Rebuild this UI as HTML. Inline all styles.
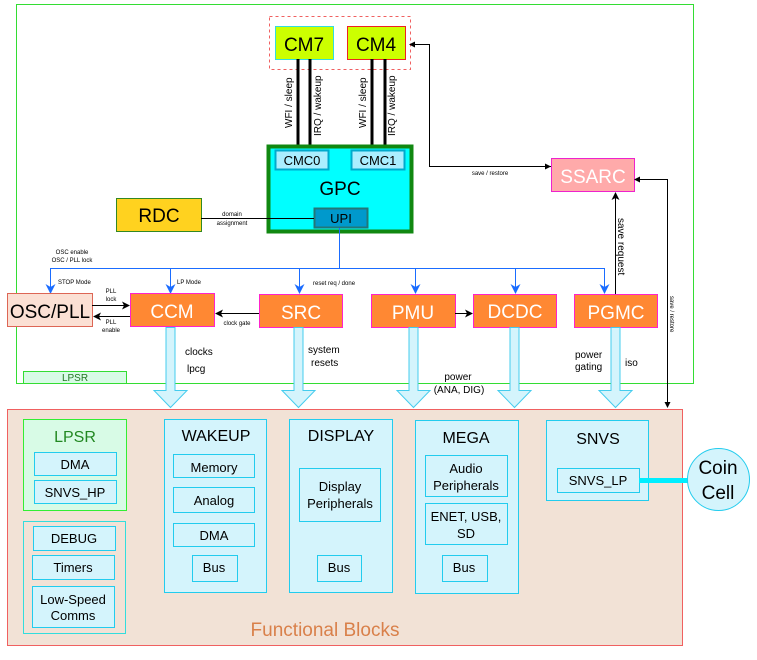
<!DOCTYPE html>
<html><head><meta charset="utf-8"><style>
html,body{margin:0;padding:0;background:#fff;}
svg{display:block;font-family:"Liberation Sans",sans-serif;}
</style></head><body>
<svg width="757" height="660" viewBox="0 0 757 660" xmlns="http://www.w3.org/2000/svg">
<defs>
<marker id="ab" markerWidth="8" markerHeight="8" refX="7" refY="4" orient="auto" markerUnits="userSpaceOnUse"><path d="M0,0 L8,4 L0,8 L2,4 z" fill="#000"/></marker>
<marker id="as" markerWidth="6" markerHeight="6" refX="5" refY="3" orient="auto" markerUnits="userSpaceOnUse"><path d="M0,0 L6,3 L0,6 z" fill="#000"/></marker>
<marker id="au" markerWidth="10" markerHeight="10" refX="9" refY="5" orient="auto" markerUnits="userSpaceOnUse"><path d="M0,0 L10,5 L0,10 L3,5 z" fill="#1a6cff"/></marker>
</defs>
<!-- outer green -->
<rect x="16.5" y="4.5" width="677" height="379" fill="none" stroke="#33dd33" stroke-width="1"/>
<rect x="23.5" y="371.5" width="103" height="12" fill="#d8fbe6" stroke="#33dd33"/>
<text x="75" y="381" font-size="10" text-anchor="middle" fill="#227722">LPSR</text>
<!-- functional blocks bg -->
<rect x="7.5" y="409.5" width="675" height="236" fill="#f2e2d6" stroke="#f06060"/>
<text x="325" y="636" font-size="19" text-anchor="middle" fill="#d9804a">Functional Blocks</text>

<!-- CM group -->
<rect x="269.5" y="16.5" width="141" height="53" fill="none" stroke="#f06060" stroke-dasharray="3,3"/>
<rect x="275.5" y="26.5" width="58" height="33" fill="#ccff00" stroke="#33dddd"/>
<text x="304" y="51" font-size="19" text-anchor="middle">CM7</text>
<rect x="347.5" y="26.5" width="58" height="33" fill="#ccff00" stroke="#ee2222"/>
<text x="376" y="51" font-size="19" text-anchor="middle">CM4</text>
<g stroke="#000" stroke-width="3">
<line x1="298" y1="59" x2="298" y2="150"/><line x1="310" y1="59" x2="310" y2="150"/>
<line x1="372" y1="59" x2="372" y2="150"/><line x1="385" y1="59" x2="385" y2="150"/>
</g>
<g font-size="10">
<text transform="translate(292,128) rotate(-90)">WFI / sleep</text>
<text transform="translate(321,136) rotate(-90)">IRQ / wakeup</text>
<text transform="translate(366,128) rotate(-90)">WFI / sleep</text>
<text transform="translate(395,136) rotate(-90)">IRQ / wakeup</text>
</g>
<!-- GPC -->
<rect x="268.5" y="146.5" width="143" height="85" fill="#00ffff" stroke="#118811" stroke-width="4"/>
<rect x="275.5" y="150.5" width="53" height="19" fill="#aaeeff" stroke="#00aacc" stroke-width="2"/>
<text x="302" y="165" font-size="13" text-anchor="middle">CMC0</text>
<rect x="351.5" y="150.5" width="53" height="19" fill="#aaeeff" stroke="#00aacc" stroke-width="2"/>
<text x="378" y="165" font-size="13" text-anchor="middle">CMC1</text>
<text x="340" y="195" font-size="19" text-anchor="middle">GPC</text>
<rect x="314.5" y="208.5" width="53" height="19" fill="#0099cc" stroke="#227777" stroke-width="2"/>
<text x="341" y="223" font-size="13" text-anchor="middle">UPI</text>
<!-- RDC -->
<rect x="116.5" y="198.5" width="85" height="33" fill="#ffd21f" stroke="#338822"/>
<text x="159" y="222" font-size="19" text-anchor="middle">RDC</text>
<line x1="201" y1="218.5" x2="314" y2="218.5" stroke="#000"/>
<text x="232" y="216" font-size="6" text-anchor="middle">domain</text>
<text x="232" y="225" font-size="6" text-anchor="middle">assignment</text>
<!-- SSARC -->
<rect x="551.5" y="158.5" width="83" height="33" fill="#ffaaaa" stroke="#ee22cc"/>
<text x="593" y="183" font-size="19" text-anchor="middle" fill="#fff">SSARC</text>
<polyline points="551,166.5 429.5,166.5 429.5,44.5 410,44.5" fill="none" stroke="#000" marker-end="url(#as)"/>
<line x1="430" y1="166.5" x2="550" y2="166.5" stroke="#000" marker-end="url(#as)"/>
<text x="490" y="175" font-size="6" text-anchor="middle">save / restore</text>
<polyline points="667.5,406 667.5,179.5 635,179.5" fill="none" stroke="#000" marker-end="url(#as)"/>
<line x1="667.5" y1="300" x2="667.5" y2="407" stroke="#000" marker-end="url(#as)"/>
<text transform="translate(670,296) rotate(90)" font-size="6">save / restore</text>
<line x1="615.5" y1="294" x2="615.5" y2="193" stroke="#000" marker-end="url(#ab)"/>
<text transform="translate(618,218) rotate(90)" font-size="10">save request</text>
<!-- blue bus -->
<g stroke="#1a6cff" fill="none">
<line x1="339.5" y1="228" x2="339.5" y2="268"/>
<line x1="50" y1="268.5" x2="605" y2="268.5"/>
<line x1="50.5" y1="268" x2="50.5" y2="293" marker-end="url(#au)"/>
<line x1="170.5" y1="268" x2="170.5" y2="293" marker-end="url(#au)"/>
<line x1="299.5" y1="268" x2="299.5" y2="293" marker-end="url(#au)"/>
<line x1="415.5" y1="268" x2="415.5" y2="293" marker-end="url(#au)"/>
<line x1="515.5" y1="268" x2="515.5" y2="293" marker-end="url(#au)"/>
<line x1="604.5" y1="268" x2="604.5" y2="293" marker-end="url(#au)"/>
</g>
<g font-size="6">
<text x="72" y="254" text-anchor="middle">OSC enable</text>
<text x="72" y="262" text-anchor="middle">OSC / PLL lock</text>
<text x="58" y="284">STOP Mode</text>
<text x="177" y="284">LP Mode</text>
<text x="313" y="285">reset req / done</text>
<text x="111" y="293" text-anchor="middle">PLL</text>
<text x="111" y="301" text-anchor="middle">lock</text>
<text x="111" y="324" text-anchor="middle">PLL</text>
<text x="111" y="332" text-anchor="middle">enable</text>
<text x="237" y="325" text-anchor="middle">clock gate</text>
</g>
<!-- row boxes -->
<rect x="7.5" y="293.5" width="85" height="33" fill="#fbe0d4" stroke="#dd6655"/>
<text x="50" y="318" font-size="19" text-anchor="middle">OSC/PLL</text>
<g fill="#ff8833" stroke="#ff22cc">
<rect x="130.5" y="293.5" width="84" height="33"/>
<rect x="259.5" y="294.5" width="83" height="33"/>
<rect x="371.5" y="294.5" width="84" height="33"/>
<rect x="473.5" y="294.5" width="83" height="33"/>
<rect x="574.5" y="294.5" width="83" height="33"/>
</g>
<g font-size="19" text-anchor="middle" fill="#fff">
<text x="172" y="318">CCM</text>
<text x="301" y="319">SRC</text>
<text x="413" y="319">PMU</text>
<text x="515" y="318">DCDC</text>
<text x="616" y="319">PGMC</text>
</g>
<line x1="92" y1="305.5" x2="129" y2="305.5" stroke="#000" marker-end="url(#ab)"/>
<line x1="130" y1="316.5" x2="94" y2="316.5" stroke="#000" marker-end="url(#ab)"/>
<line x1="259" y1="313.5" x2="216" y2="313.5" stroke="#000" marker-end="url(#ab)"/>
<line x1="455" y1="313.5" x2="472" y2="313.5" stroke="#000" marker-end="url(#ab)"/>
<!-- fat arrows -->
<g fill="#d4f4fc" stroke="#44ccee">
<path d="M166,327.5 h9 v63 h12 l-16.5,17 l-16.5,-17 h12 z"/>
<path d="M294,327.5 h9 v63 h12 l-16.5,17 l-16.5,-17 h12 z"/>
<path d="M409,327.5 h9 v63 h12 l-16.5,17 l-16.5,-17 h12 z"/>
<path d="M510,327.5 h9 v63 h12 l-16.5,17 l-16.5,-17 h12 z"/>
<path d="M611,327.5 h9 v63 h12 l-16.5,17 l-16.5,-17 h12 z"/>
</g>
<g font-size="10">
<text x="185" y="355">clocks</text>
<text x="187" y="372">lpcg</text>
<text x="308" y="353">system</text>
<text x="311" y="366">resets</text>
<text x="458" y="380" text-anchor="middle">power</text>
<text x="459" y="393" text-anchor="middle">(ANA, DIG)</text>
<text x="575" y="358">power</text>
<text x="575" y="370">gating</text>
<text x="625" y="366">iso</text>
</g>
<!-- bottom blocks -->
<rect x="23.5" y="419.5" width="103" height="91" fill="#d8fbe6" stroke="#33ee33"/>
<text x="75" y="442" font-size="16" text-anchor="middle" fill="#228822">LPSR</text>
<rect x="23.5" y="521.5" width="102" height="112" fill="none" stroke="#33dddd"/>
<g fill="#d4f4fc" stroke="#22ccee">
<rect x="34.5" y="452.5" width="82" height="23"/>
<rect x="34.5" y="480.5" width="82" height="23"/>
<rect x="33.5" y="526.5" width="82" height="24"/>
<rect x="32.5" y="555.5" width="82" height="24"/>
<rect x="32.5" y="586.5" width="82" height="41"/>
<rect x="164.5" y="419.5" width="102" height="173"/>
<rect x="289.5" y="419.5" width="103" height="173"/>
<rect x="415.5" y="420.5" width="103" height="173"/>
<rect x="546.5" y="420.5" width="102" height="80"/>
<rect x="173.5" y="454.5" width="81" height="23"/>
<rect x="173.5" y="487.5" width="81" height="25"/>
<rect x="173.5" y="523.5" width="81" height="23"/>
<rect x="192.5" y="555.5" width="45" height="26"/>
<rect x="299.5" y="468.5" width="81" height="53"/>
<rect x="317.5" y="555.5" width="44" height="26"/>
<rect x="425.5" y="455.5" width="82" height="41"/>
<rect x="425.5" y="503.5" width="82" height="41"/>
<rect x="442.5" y="555.5" width="45" height="26"/>
<rect x="557.5" y="468.5" width="82" height="24"/>
</g>
<rect x="639" y="478" width="50" height="5" fill="#00eeff"/>
<circle cx="718.5" cy="479.5" r="31" fill="#d4f4fc" stroke="#22ccee"/>
<text x="718" y="474" font-size="19" text-anchor="middle">Coin</text>
<text x="718" y="499" font-size="19" text-anchor="middle">Cell</text>
<g font-size="13" text-anchor="middle">
<text x="75" y="469">DMA</text>
<text x="75" y="497">SNVS_HP</text>
<text x="74" y="543">DEBUG</text>
<text x="73" y="572">Timers</text>
<text x="73" y="604">Low-Speed</text>
<text x="73" y="620">Comms</text>
<text x="214" y="472">Memory</text>
<text x="214" y="505">Analog</text>
<text x="214" y="540">DMA</text>
<text x="214" y="572">Bus</text>
<text x="340" y="491">Display</text>
<text x="340" y="508">Peripherals</text>
<text x="339" y="572">Bus</text>
<text x="466" y="473">Audio</text>
<text x="466" y="490">Peripherals</text>
<text x="466" y="521">ENET, USB,</text>
<text x="466" y="538">SD</text>
<text x="464" y="572">Bus</text>
<text x="598" y="485">SNVS_LP</text>
</g>
<g font-size="16" text-anchor="middle">
<text x="216" y="441">WAKEUP</text>
<text x="341" y="441">DISPLAY</text>
<text x="466" y="443">MEGA</text>
<text x="598" y="444">SNVS</text>
</g>
</svg>
</body></html>
